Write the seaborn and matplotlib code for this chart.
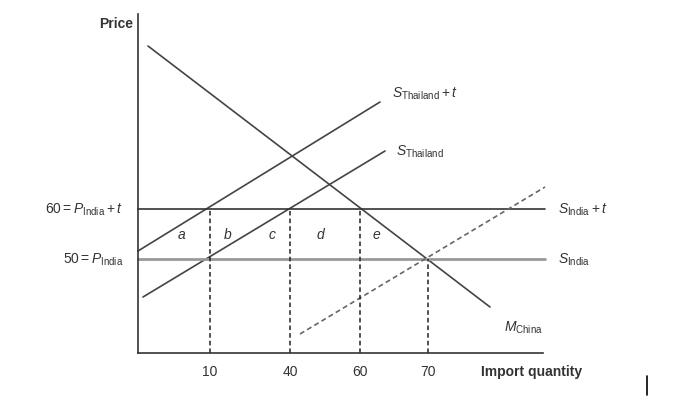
import matplotlib
matplotlib.use("Agg")
import matplotlib.pyplot as plt
import seaborn as sns
import pandas as pd

sns.set_theme(style="white")
plt.rcParams["font.family"] = "Liberation Sans"
plt.rcParams["mathtext.fontset"] = "custom"
plt.rcParams["mathtext.rm"] = "Liberation Sans"
plt.rcParams["mathtext.it"] = "Liberation Sans:italic"

# schematic coordinates (diagram units)
tick_pos = [72, 152, 222, 290]
tick_labels = ["10", "40", "60", "70"]
p_india_t = 144
p_india = 94
mchina_x = [10, 352]; mchina_y = [307, 46]
sthai_t_x = [0, 242]; sthai_t_y = [102, 251]
sthai_x = [5, 247]; sthai_y = [56, 202]
schina_x = [162, 407]; schina_y = [19, 166]
area_labels = ["a", "b", "c", "d", "e"]
area_x = [44, 90, 134, 182, 238]
area_y = 119

W, H = 700, 406
fig = plt.figure(figsize=(7, 4.06), dpi=100)
x0, x1, ybot, ytop = 138, 543, 354, 15
ax = fig.add_axes([x0 / W, 1 - ybot / H, (x1 - x0) / W, (ybot - ytop) / H])
ax.set_xlim(0, x1 - x0); ax.set_ylim(0, ybot - ytop)
for s in ["top", "right"]:
    ax.spines[s].set_visible(False)
for s in ["left", "bottom"]:
    ax.spines[s].set_color("#333333"); ax.spines[s].set_linewidth(1.2)
ax.set_xticks(tick_pos); ax.set_xticklabels(tick_labels, fontsize=10, color="#333333")
ax.set_yticks([])
ax.tick_params(axis="x", length=0, pad=8)

kw = dict(ax=ax, legend=False, estimator=None)
def line(xs, ys, **k):
    sns.lineplot(data=pd.DataFrame({"x": xs, "y": ys}), x="x", y="y", clip_on=False, **kw, **k)

line(mchina_x, mchina_y, color="#444444", lw=1.2)
line(sthai_t_x, sthai_t_y, color="#444444", lw=1.2)
line(sthai_x, sthai_y, color="#444444", lw=1.2)
line([0, 407], [p_india_t] * 2, color="#333333", lw=1.2)
line([0, 407], [p_india] * 2, color="#999999", lw=2)
line(schina_x, schina_y, color="#666666", lw=1.2, linestyle=(0, (3, 2)))
for i, xp in enumerate(tick_pos):
    top = p_india if i == 3 else p_india_t
    line([xp, xp], [0, top], color="#222222", lw=1.1, linestyle=(0, (3, 2)))
ax.set_xlabel(""); ax.set_ylabel("")

for t, xx in zip(area_labels, area_x):
    ax.text(xx, area_y, t, style="italic", fontsize=10, ha="center", va="center", color="#333333")

tk = dict(fontsize=10, color="#333333", clip_on=False)
ax.text(-5, 330, "Price", fontweight="bold", ha="right", va="center", **tk)
ax.text(394, -18, "Import quantity", fontweight="bold", ha="center", va="center", **tk)
ax.text(-15, p_india_t, r"$60 = P_{\mathrm{India}} + t$", ha="right", va="center", **tk)
ax.text(-15, p_india, r"$50 = P_{\mathrm{India}}$", ha="right", va="center", **tk)
ax.text(420, p_india_t, r"$S_{\mathrm{India}} + t$", ha="left", va="center", **tk)
ax.text(420, p_india, r"$S_{\mathrm{India}}$", ha="left", va="center", **tk)
ax.text(254, 260, r"$S_{\mathrm{Thailand}} + t$", ha="left", va="center", **tk)
ax.text(258, 202, r"$S_{\mathrm{Thailand}}$", ha="left", va="center", **tk)
ax.text(366, 26, r"$M_{\mathrm{China}}$", ha="left", va="center", **tk)

fig.add_artist(plt.Line2D([647 / W, 647 / W], [1 - 396 / H, 1 - 377 / H], color="black", lw=1.2))
fig.savefig("out.png", dpi=100, facecolor="white")
